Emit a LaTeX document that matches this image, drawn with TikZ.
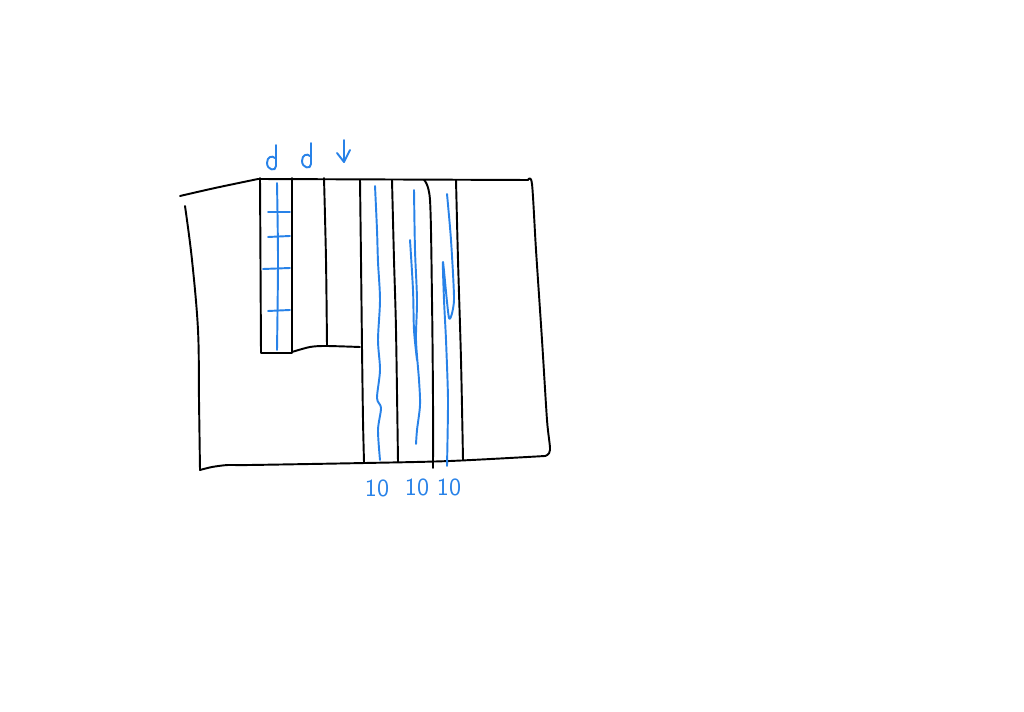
\documentclass[tikz,border=0pt]{standalone}
\usepackage{tikz}
\definecolor{inkblue}{RGB}{40,130,232}
\tikzstyle{pen}=[draw, black, line width=1.1pt, line cap=round, line join=round]
\tikzstyle{ink}=[draw, inkblue, line width=1.1pt, line cap=round, line join=round]
\tikzstyle{tally}=[inkblue, inner sep=0pt, font=\fontsize{14}{14}\selectfont\sffamily]
\newcommand{\tally}{\node[tally]}

\begin{document}
\begin{tikzpicture}[x=0.02cm, y=-0.02cm]
\useasboundingbox (0,0) rectangle (1024,712);
% outer frame
\draw[pen] plot[smooth] coordinates {(180,196) (215,188) (258,179)};
\draw[pen] (258,179) -- (528,180);
\draw[pen] plot[smooth, tension=0.5] coordinates {(528,180) (532,184) (536,250) (542,340) (547,420) (550,450) (545,456)};
\draw[pen] plot[smooth, tension=0.5] coordinates {(545,456) (450,461) (365,463) (250,465) (228,465) (212,467) (200,470)};
\draw[pen] plot[smooth, tension=0.6] coordinates {(185,206) (192,260) (198,330) (199,400) (200,470)};
% columns
\draw[pen] (260,178) -- (261,353) -- (292,353);
\draw[pen] (292,178) -- (292,352);
\draw[pen] plot[smooth, tension=0.5] coordinates {(292,352) (310,347) (326,346) (360,347)};
\draw[pen] plot[smooth] coordinates {(324,178) (326,260) (327,346)};
\draw[pen] plot[smooth] coordinates {(360,180) (361,260) (362,347) (363,420) (364,462)};
\draw[pen] plot[smooth] coordinates {(392,180) (394,260) (396,330) (398,462)};
\draw[pen] plot[smooth, tension=0.5] coordinates {(424,180) (430,200) (432,300) (433,400) (433,468)};
\draw[pen] plot[smooth] coordinates {(456,180) (458,260) (461,360) (463,460)};
% blue strokes
\draw[ink] plot[smooth] coordinates {(277,183) (278,260) (277,350)};
\draw[ink] (268,212) -- (290,212);
\draw[ink] (268,237) -- (290,236);
\draw[ink] (263,269) -- (290,268);
\draw[ink] (268,311) -- (290,310);
\draw[ink] plot[smooth, tension=0.5] coordinates {(375,186) (377,230) (378,262) (380,300) (378,340) (380,370) (377,398) (381,408) (378,430) (380,460)};
\draw[ink] plot[smooth, tension=0.5] coordinates {(414,190) (415,250) (417,300) (416,340) (419,380) (420,405) (417,430) (416,444)};
\draw[ink] plot[smooth, tension=0.5] coordinates {(410,240) (413,290) (414,330) (417,360)};
\draw[ink] plot[smooth, tension=0.4] coordinates {(447,194) (451,240) (454,300) (449,318) (443,262) (444,300) (446,340) (448,400) (447,466)};
% arrows on top
\draw[ink] (276,145) -- (276,166) .. controls (276,172) and (267,170) .. (267,163) .. controls (267,157) and (272,155) .. (275,158);
\draw[ink] (311,143) -- (311,164) .. controls (311,170) and (302,168) .. (302,161) .. controls (302,155) and (307,153) .. (310,156);
\draw[ink] (344,140) -- (344,162) -- (337,153);
\draw[ink] (344,162) -- (350,150);
% labels
\tally (ten1) at (377,488) {10};
\tally (ten2) at (417,487) {10};
\tally (ten3) at (449,487) {10};
\end{tikzpicture}
\end{document}
